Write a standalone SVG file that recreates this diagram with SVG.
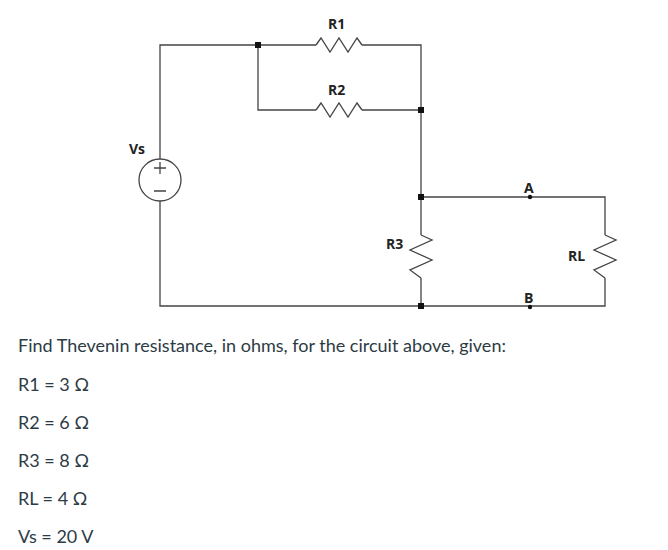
<svg xmlns="http://www.w3.org/2000/svg" width="668" height="550" viewBox="0 0 668 550">
<style>
.w{fill:none;stroke:#444;stroke-width:1.3}
.lb{font-family:"Open Sans","DejaVu Sans",sans-serif;font-weight:bold;font-size:14px;fill:#222}
.t{font-family:Lato,"Liberation Sans",sans-serif;font-size:18px;fill:#2d3b45}
</style>
<rect width="668" height="550" fill="#fff"/>
<g id="connectors">
<path class="w" d="M160 159V45H316M362 45H421V235M421 278V306H160V201"/>
<path class="w" d="M258 45V110H316M362 110H421"/>
<path class="w" d="M421 197H605V235M605 278V306H421"/>
</g>
<g id="R1"><path class="w" d="M316 45l5-7 9 14 9-14 9 14 9-14 5 7"/><text class="lb" x="328" y="29">R1</text></g>
<g id="R2"><path class="w" d="M316 110l5-7 9 14 9-14 9 14 9-14 5 7"/><text class="lb" x="328" y="95">R2</text></g>
<g id="R3"><path class="w" d="M421 235l11 5-22 10 22 10-22 10 11 8"/><text class="lb" x="386" y="249">R3</text></g>
<g id="RL"><path class="w" d="M605 235l11 5-22 10 22 10-22 10 11 8"/><text class="lb" x="568" y="261">RL</text></g>
<g id="Vs"><circle class="w" cx="160" cy="180" r="21"/><path class="w" d="M154 168h12M160 162v12M154 191h12"/><text class="lb" x="129" y="154">Vs</text></g>
<g id="nodes" fill="#111">
<rect x="255" y="42" width="6" height="6"/><rect x="418" y="107" width="6" height="6"/>
<rect x="418" y="194" width="6" height="6"/><rect x="418" y="303" width="6" height="6"/>
</g>
<g id="A"><circle cx="530" cy="197" r="2.2" fill="#111"/><text class="lb" x="524" y="193">A</text></g>
<g id="B"><circle cx="530" cy="307" r="2.2" fill="#111"/><text class="lb" x="524" y="303">B</text></g>
<text class="t" x="18" y="352">Find Thevenin resistance, in ohms, for the circuit above, given:</text>
<text class="t" x="18" y="391">R1 = 3 Ω</text>
<text class="t" x="18" y="429">R2 = 6 Ω</text>
<text class="t" x="18" y="467">R3 = 8 Ω</text>
<text class="t" x="18" y="505">RL = 4 Ω</text>
<text class="t" x="18" y="543">Vs = 20 V</text>
</svg>
